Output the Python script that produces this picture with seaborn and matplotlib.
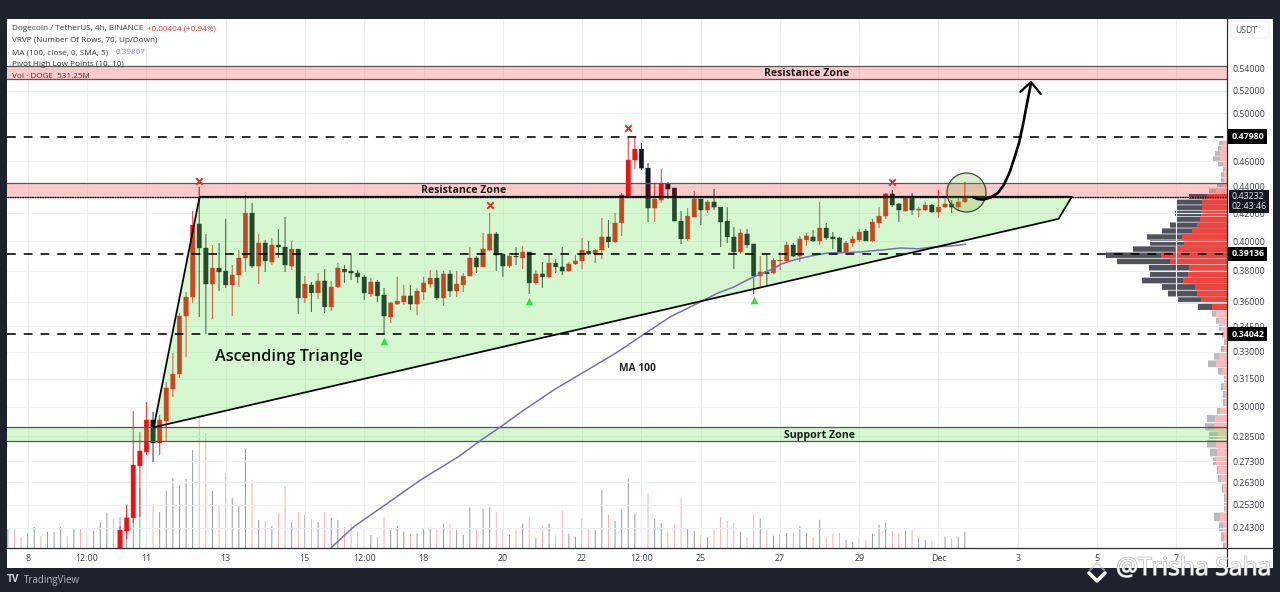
import numpy as np
import matplotlib
matplotlib.use("Agg")
import matplotlib.pyplot as plt
import matplotlib.patheffects as pe
import seaborn as sns
from matplotlib.patches import Rectangle, FancyBboxPatch

# candles, 4h bars, index 0 is the "8" tick
first_candle = 14
candle_open = [
    .2319, .2417, .2473, .2707, .2773, .2932, .2817, .2927, .3094, .3176, .3513, .3631, .4123, .3954, .3714, .3819,
    .3799, .3708, .3773, .3886, .4202, .3832, .3989, .3859, .3975, .3961, .3832, .3947, .3625, .3708, .3657, .3734,
    .3569, .3695, .3812, .3799, .3786, .3760, .3650, .3727, .3644, .3507, .3587, .3600, .3638, .3587, .3663, .3714,
    .3753, .3625, .3780, .3669, .3708, .3766, .3886, .3826, .3940, .4052, .3913, .3832, .3899, .3886, .3927, .3721,
    .3780, .3760, .3852, .3826, .3799, .3846, .3866, .3933, .3913, .3940, .4031, .3996, .4130, .4329, .4608, .4697,
    .4544, .4239, .4298, .4420, .4389, .4144, .4017, .4173, .4306, .4224, .4284, .4246, .4144, .4031, .3927, .4052,
    .3982, .3766, .3793, .3786, .3866, .3866, .3975, .3899, .4010, .4031, .4003, .4094, .4031, .4024, .3927, .3989,
    .4010, .4073, .4003, .4130, .4180, .4344, .4269, .4217, .4313, .4224, .4224, .4261, .4210, .4246, .4269, .4246,
    .4284,
]
candle_close = [
    .2421, .2473, .2711, .2778, .2932, .2817, .2932, .3100, .3176, .3513, .3631, .4115, .3954, .3714, .3819, .3793,
    .3708, .3773, .3886, .4202, .3832, .3989, .3866, .3975, .3961, .3839, .3947, .3625, .3714, .3657, .3734, .3569,
    .3695, .3819, .3793, .3786, .3760, .3657, .3727, .3638, .3513, .3594, .3606, .3638, .3587, .3669, .3721, .3753,
    .3625, .3780, .3669, .3714, .3766, .3886, .3826, .3947, .4052, .3906, .3832, .3899, .3893, .3927, .3721, .3780,
    .3760, .3852, .3826, .3799, .3846, .3866, .3940, .3913, .3940, .4031, .3996, .4130, .4336, .4608, .4697, .4544,
    .4239, .4306, .4420, .4381, .4144, .4017, .4180, .4306, .4224, .4284, .4246, .4137, .4031, .3927, .4059, .3975,
    .3766, .3793, .3780, .3872, .3872, .3975, .3899, .4017, .4038, .4003, .4094, .4024, .4017, .3920, .3989, .4017,
    .4066, .4003, .4137, .4180, .4344, .4261, .4224, .4321, .4224, .4232, .4261, .4210, .4246, .4269, .4246, .4284,
    .4323,
]
candle_high = [
    .2438, .2529, .2978, .2871, .3025, .2973, .2957, .3132, .3294, .3532, .3663, .4217, .4397, .4052, .3975, .3989,
    .4159, .3839, .3940, .4336, .4276, .4052, .4010, .4024, .4087, .4173, .4003, .3947, .3766, .3727, .3786, .3812,
    .3734, .3852, .3839, .3913, .3806, .3773, .3753, .3740, .3689, .3600, .3760, .3708, .3708, .3689, .3760, .3806,
    .3806, .3799, .3806, .3799, .3786, .3961, .3899, .4059, .4202, .4066, .3920, .3920, .3961, .3968, .3927, .3806,
    .3859, .3906, .3879, .3961, .3859, .3906, .4024, .4003, .3947, .4166, .4151, .4202, .4351, .4796, .4796, .4746,
    .4584, .4427, .4536, .4435, .4389, .4217, .4239, .4366, .4306, .4298, .4381, .4246, .4246, .4101, .4087, .4087,
    .3982, .3899, .3906, .3886, .3927, .3996, .3989, .4038, .4059, .4080, .4284, .4130, .4066, .4031, .4003, .4038,
    .4087, .4087, .4159, .4246, .4351, .4374, .4276, .4329, .4351, .4246, .4284, .4269, .4374, .4321, .4298, .4321,
    .4435,
]
candle_low = [
    .2291, .2384, .2451, .2477, .2759, .2725, .2759, .2822, .3052, .3154, .3271, .3594, .3507, .3405, .3495, .3669,
    .3689, .3513, .3695, .3793, .3819, .3714, .3793, .3839, .3886, .3793, .3806, .3525, .3594, .3538, .3619, .3532,
    .3544, .3689, .3721, .3740, .3721, .3612, .3631, .3600, .3405, .3471, .3581, .3581, .3550, .3519, .3612, .3689,
    .3612, .3575, .3631, .3631, .3663, .3766, .3786, .3826, .3933, .3799, .3760, .3819, .3839, .3812, .3650, .3708,
    .3689, .3753, .3786, .3773, .3793, .3839, .3812, .3906, .3852, .3879, .3954, .3989, .4038, .4329, .4536, .4529,
    .4137, .4137, .4276, .4306, .4144, .3982, .4003, .4173, .4115, .4202, .4224, .3961, .3989, .3812, .3913, .3954,
    .3650, .3695, .3708, .3780, .3806, .3859, .3893, .3859, .3968, .3996, .3975, .4010, .3947, .3920, .3920, .3961,
    .3996, .4003, .3996, .4094, .4159, .4246, .4137, .4210, .4188, .4173, .4217, .4202, .4166, .4239, .4202, .4217,
    .4276,
]

# volume in millions, starts at bar index -3; bars before first_candle have no candle on screen
first_volume = -3
volume = [
    660, 627, 363, 495, 693, 396, 528, 528, 693, 396, 627, 660, 528, 561, 858, 1155, 957, 1023, 1419, 1716,
    1980, 2112, 1452, 1188, 1881, 2310, 2079, 2277, 3234, 4290, 3795, 1881, 1386, 2475, 1650, 1419, 3267, 2244, 924, 891,
    726, 1155, 2046, 858, 1188, 1089, 957, 858, 1188, 990, 924, 693, 792, 561, 726, 429, 363, 1023, 594, 726,
    538, 472, 485, 637, 670, 627, 802, 802, 584, 439, 1343, 627, 1297, 1343, 1188, 660, 439, 604, 802, 1000,
    330, 716, 802, 419, 1244, 472, 373, 967, 660, 584, 1924, 1099, 891, 1297, 2287, 1132, 1046, 1815, 957, 825,
    538, 769, 1650, 660, 561, 439, 363, 650, 1023, 891, 825, 538, 363, 1122, 967, 604, 406, 472, 495, 518,
    726, 495, 363, 934, 363, 472, 495, 274, 198, 320, 274, 472, 769, 835, 561, 472, 571, 594, 340, 264,
    241, 769, 373, 330, 363, 531.25,
]
early_volume_red = [0, 1, 1, 0, 0, 1, 0, 0, 0, 1, 0, 1, 1, 0, 0, 0, 1]

# MA(100)
ma_index = [
    45.9, 49.4, 54.5, 59.5, 65.3, 68.6, 71.7, 75.2, 79.7, 84.8, 89.3, 93.6, 97.4, 102.5, 104.5, 107, 108.5, 110,
    113.2, 114.1, 116, 118.6, 121.2, 123.2, 126.2, 129.2, 132.3, 134.9, 137.3, 139.9, 142.1,
]
ma_price = [
    .2346, .2435, .2536, .2641, .2751, .2829, .2898, .2983, .3089, .3198, .3298, .3409, .3509, .3612, .3655, .3695, .3729, .3760,
    .3819, .3844, .3872, .3899, .3920, .3922, .3927, .3940, .3954, .3949, .3961, .3968, .39807,
]

# pivot points
pivot_high_index = [26, 70, 91, 131]
pivot_high_price = [.4443, .4261, .4872, .4435]
pivot_low_index = [54, 76, 110]
pivot_low_price = [.3363, .3606, .3612]

# visible range volume profile, rows from the top
vp_price = [
    .4745, .4703, .4661, .4619, .4577, .4535, .4493, .4451, .4409, .4367, .4325, .4283, .4241, .4199, .4157,
    .4115, .4073, .4031, .3989, .3947, .3905, .3863, .3821, .3779, .3737, .3695, .3653, .3611, .3569, .3527,
    .3485, .3443, .3401, .3359, .3317, .3275, .3233, .3191, .3149, .3107, .3065, .3023, .2981, .2939, .2897,
    .2855, .2813, .2771, .2729, .2687, .2645, .2603, .2561, .2519, .2477, .2435, .2393, .2351,
]
vp_total = [
    8, 9, 12, 14, 9, 4, 6, 6, 10, 18, 38, 50, 51, 52, 51, 57, 65, 80, 77, 94, 121, 110, 78, 77, 85, 65, 59, 49, 29,
    15, 11, 8, 5, 3, 6, 13, 19, 9, 3, 6, 4, 4, 10, 20, 22, 18, 20, 17, 14, 10, 9, 5, 3, 3, 13, 8, 6, 4,
]
vp_up = [
    4, 6, 7, 7, 4, 2, 3, 3, 4, 11, 20, 25, 25, 26, 27, 30, 35, 45, 43, 52, 66, 57, 38, 39, 44, 32, 30, 26, 15,
    11, 8, 6, 3, 1, 3, 8, 11, 5, 1, 4, 2, 2, 7, 12, 13, 9, 11, 10, 11, 9, 6, 4, 2, 2, 7, 4, 3, 2,
]
value_area = (.3569, .4325)

# horizontal levels and zones
dashed_levels = [.4798, .39136, .34042]
current_price = .43232
resistance_top = (.5302, .5429)
resistance_mid = (.4323, .4425)
support_zone = (.2825, .2895)

# hand drawn shapes
triangle_index = [19.1, 26.06, 158.2, 156.2]
triangle_price = [.2895, .4323, .4323, .4160]
arrow_index = [143.2, 143.9, 144.8, 145.9, 147.0, 147.9, 148.8, 149.5, 150.2, 150.8, 151.4, 152.0]
arrow_price = [.4321, .4306, .4302, .4317, .4351, .4412, .4513, .4624, .4746, .4897, .5079, .5259]
head_index = [150.4, 152.0, 153.5]
head_price = [.5187, .5278, .5169]

# axis labels
x_tick_index = [0, 9, 18, 30, 42, 51, 60, 72, 84, 93, 102, 114, 126, 138, 150, 162, 174]
x_tick_labels = ["8", "12:00", "11", "13", "15", "12:00", "18", "20", "22", "12:00", "25", "27", "29", "Dec", "3", "5", "7"]
y_ticks = [.54, .52, .50, .46, .44, .42, .40, .38, .36, .345, .33, .315, .30, .285, .273, .263, .253, .243]

W, H = 1280, 592
DARK = "#1e222d"
CANDLE_UP = "#f01010"
CANDLE_DOWN = "#131722"
XLIM = (-3.13, 181.72)
YLIM = (.23467, .5889)

sns.set_theme(style="white")
plt.rcParams["font.family"] = ["Open Sans", "DejaVu Sans"]

fig = plt.figure(figsize=(W / 100, H / 100), dpi=100, facecolor=DARK)
rect = [7 / W, (H - 548) / H, 1220 / W, 529 / H]

# white panel behind everything, pixel coordinates for the frame only
ax_bg = fig.add_axes([0, 0, 1, 1], zorder=0)
ax_bg.set_xlim(0, W)
ax_bg.set_ylim(H, 0)
ax_bg.axis("off")
ax_bg.add_patch(Rectangle((7, 19), 1266, 548.5, fc="white", ec="none"))

# volume
ax_vol = fig.add_axes(rect, zorder=1, facecolor="none")
vol_index = np.arange(first_volume, first_volume + len(volume))
vol_red = np.array(list(early_volume_red) + [int(c < o) for o, c in zip(candle_open, candle_close)])
vol_lines = ax_vol.vlines(vol_index, 0, volume, colors=np.where(vol_red == 1, "#f0a3a3", "#82858f"), lw=0.7, alpha=.85)
vol_lines.set_snap(False)
ax_vol.set_xlim(*XLIM)
ax_vol.set_ylim(0, 17457)
ax_vol.axis("off")

# volume profile
ax_vp = fig.add_axes(rect, zorder=2, facecolor="none")
ax_vp.set_yscale("log")
ax_vp.set_ylim(*YLIM)
ax_vp.set_xlim(1220, 0)
vp_price_a = np.array(vp_price)
strong = (vp_price_a >= value_area[0]) & (vp_price_a <= value_area[1])
rows = ax_vp.barh(vp_price_a, vp_total, height=.0037, color=np.where(strong, "#50535e", "#b9b9bc"), lw=0)
rows_up = ax_vp.barh(vp_price_a, vp_up, height=.0037, color=np.where(strong, "#f7423c", "#fdb9b9"), lw=0)
for b in list(rows) + list(rows_up):
    b.set_snap(False)
ax_vp.axis("off")

# price axes
ax = fig.add_axes(rect, zorder=3, facecolor="none")
ax.set_yscale("log")
ax.set_xlim(*XLIM)
ax.set_ylim(*YLIM)
ax.set_yticks(y_ticks)
ax.set_yticklabels([f"{t:.5f}" for t in y_ticks])
ax.minorticks_off()
ax.yaxis.tick_right()
ax.set_xticks(x_tick_index)
ax.set_xticklabels(x_tick_labels)
ax.tick_params(axis="y", length=0, pad=4, labelsize=6.3, labelcolor="#3a3e48")
ax.tick_params(axis="x", length=0, pad=4, labelsize=6.4, labelcolor="#3a3e48")
ax.grid(True, color="#eef0f5", lw=0.8)
ax.set_axisbelow(True)
for side in ["left", "top"]:
    ax.spines[side].set_visible(False)
ax.spines["right"].set_color("#2a2e39")
ax.spines["bottom"].set_color("#2a2e39")
ax.spines["right"].set_linewidth(0.9)
ax.spines["bottom"].set_linewidth(0.9)

# candles
idx = np.arange(first_candle, first_candle + len(candle_open))
o, c = np.array(candle_open), np.array(candle_close)
colors = np.where(c >= o, CANDLE_UP, CANDLE_DOWN)
wicks = ax.vlines(idx, candle_low, candle_high, colors=colors, lw=0.8, alpha=.8, zorder=3)
wicks.set_snap(False)
bodies = ax.bar(idx, np.abs(c - o), bottom=np.minimum(o, c), width=0.68, color=colors, edgecolor=colors, lw=0.25, zorder=3.2)
for b in bodies:
    b.set_snap(False)

# zones over the candles
green = (90 / 255, 230 / 255, 70 / 255)
for lo, hi in [resistance_top, resistance_mid]:
    ax.axhspan(lo, hi, facecolor=(1, 0, 0), alpha=.2, lw=0, zorder=4)
    ax.axhline(lo, color="#55555c", lw=0.9, zorder=4.1)
    ax.axhline(hi, color="#55555c", lw=0.9, zorder=4.1)
ax.axhspan(*support_zone, facecolor=green, alpha=.25, lw=0, zorder=4)
ax.axhline(support_zone[0], color="#4c5a50", lw=0.9, zorder=4.1)
ax.axhline(support_zone[1], color="#4c5a50", lw=0.9, zorder=4.1)

ax.fill(triangle_index, triangle_price, facecolor=green, alpha=.25, lw=0, zorder=4)
ax.plot(triangle_index + triangle_index[:1], triangle_price + triangle_price[:1], color="black", lw=1.25, zorder=6)

# levels
for level in dashed_levels:
    ax.axhline(level, color="black", lw=1.15, dashes=(5.5, 5), zorder=6)
ax.axhline(current_price, color="black", lw=0.9, ls=(0, (1, 1)), zorder=5)

# MA and pivots
sns.lineplot(x=ma_index, y=ma_price, color="#7a6cb8", lw=1.1, ax=ax, zorder=5.5)
sns.scatterplot(x=pivot_high_index, y=pivot_high_price, marker="x", color="#df3328", s=22, linewidth=1.4, ax=ax, zorder=7)
sns.scatterplot(x=pivot_low_index, y=pivot_low_price, marker="^", color="#35dc45", s=30, linewidth=0, ax=ax, zorder=7)

# circle and arrow
ax.scatter([142.1], [.4362], s=790, facecolor=(.5, .68, .22, .24), edgecolor="#3a4a36", lw=0.9, zorder=7)
ax.plot(arrow_index, arrow_price, color="black", lw=1.9, solid_capstyle="round", zorder=8)
ax.plot(head_index, head_price, color="black", lw=1.6, zorder=8)

# text on the chart
zone_kw = dict(ha="center", va="center", fontsize=7.6, fontweight="bold", color="#1a1a1a", zorder=9)
ax.text(118.0, .5360, "Resistance Zone", **zone_kw)
ax.text(66.1, .4370, "Resistance Zone", **zone_kw)
ax.text(120.0, .2856, "Support Zone", **zone_kw)
ax.text(39.5, .3271, "Ascending Triangle", ha="center", va="center", fontsize=11.7, fontweight="semibold", color="#101010", zorder=9)
ax.text(92.4, .3208, "MA 100", ha="center", va="center", fontsize=7.4, fontweight="bold", color="#222", zorder=9)

# price labels on the axis
y_axis = ax.get_yaxis_transform()
for level in dashed_levels:
    ax.annotate(f"{level:.5f}", (1, level), xycoords=y_axis, xytext=(3, 0), textcoords="offset points",
                ha="left", va="center", fontsize=6.4, fontweight="bold", color="white", annotation_clip=False,
                bbox=dict(boxstyle="square,pad=0.32", fc="black", ec="none"), zorder=20)
ax.annotate(f"{current_price:.5f}\n02:43:46", (1, .4288), xycoords=y_axis, xytext=(3, 0), textcoords="offset points",
            ha="left", va="center", fontsize=6.4, color="#e6e8ee", linespacing=1.05, annotation_clip=False,
            bbox=dict(boxstyle="square,pad=0.3", fc="#131722", ec="none"), zorder=20)

# legend block, frame bits and logos on top, pixel coordinates
ax_top = fig.add_axes([0, 0, 1, 1], zorder=5, facecolor="none")
ax_top.set_xlim(0, W)
ax_top.set_ylim(H, 0)
ax_top.axis("off")

head_kw = dict(ha="left", va="center", fontsize=5.9, family="Open Sans", color="#33363f")
ax_top.text(12.5, 29, "Dogecoin / TetherUS, 4h, BINANCE", **head_kw)
ax_top.text(147, 29, "+0.00404 (+0.94%)", ha="left", va="center", fontsize=5.9, color="#e2382f")
ax_top.text(12.5, 41, "VRVP (Number Of Rows, 70, Up/Down)", **head_kw)
ax_top.text(12.5, 53, "MA (100, close, 0, SMA, 5)", **head_kw)
ax_top.text(116, 53, "0.39807", ha="left", va="center", fontsize=5.9, color="#8a7cc8")
ax_top.text(12.5, 65, "Pivot High Low Points (10, 10)", **head_kw)
ax_top.text(12.5, 76.5, "Vol · DOGE  531.25M", **head_kw)

ax_top.plot([1227, 1273], [548, 548], color="#2a2e39", lw=0.9)
ax_top.plot([1227, 1227], [548, 566], color="#2a2e39", lw=0.9)
ax_top.add_patch(FancyBboxPatch((1231, 21), 38, 17, boxstyle="round,pad=0,rounding_size=2", fc="white", ec="#eeeff3", lw=0.8))
ax_top.text(1246, 30.5, "USDT", ha="center", va="center", fontsize=6.2, color="#4a4e58")

ax_top.text(7, 580, "TV", ha="left", va="center", fontsize=7.2, fontweight="bold", color="#d1d4dc")
ax_top.text(23.5, 580, "TradingView", ha="left", va="center", fontsize=7, color="#b2b5be")

ax_top.plot([1090, 1097, 1104], [570, 563, 570], color="#c8c8c8", lw=1.6, alpha=.6)
ax_top.plot([1089, 1097, 1105], [573, 581, 573], color="#f4f4f4", lw=2.6)
ax_top.text(1116, 568.5, "@Trisha Saha", ha="left", va="center", fontsize=17.8, color="white", alpha=.92,
            path_effects=[pe.withStroke(linewidth=1.0, foreground="#b5b8bf")])

fig.savefig("out.png", dpi=100, facecolor=fig.get_facecolor())
